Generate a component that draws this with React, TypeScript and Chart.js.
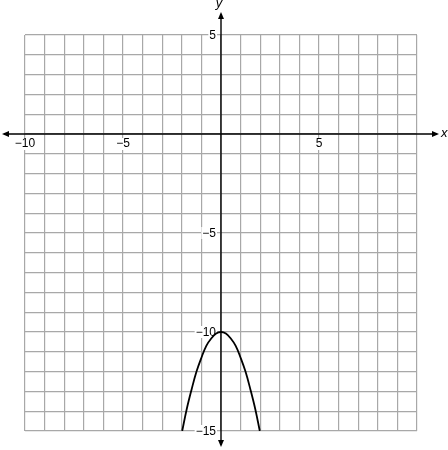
import React, { useEffect, useRef } from "react";
import { Chart, registerables } from "chart.js";

Chart.register(...registerables);

const xValues = [-1.98, -1.75, -1.5, -1.25, -1, -0.75, -0.5, -0.25, 0, 0.25, 0.5, 0.75, 1, 1.25, 1.5, 1.75, 1.98];
const yValues = [-15, -13.9, -12.9, -12.0, -11.3, -10.7, -10.33, -10.08, -10, -10.08, -10.33, -10.7, -11.3, -12.0, -12.9, -13.9, -15];
const xTickLabels = [-10, -5, 5];
const yTickLabels = [5, -5, -10, -15];
const xRange = [-10, 10];
const yRange = [-15, 5];

const fmt = (v: number) => (v < 0 ? "\u2212" + Math.abs(v) : String(v));

const axesPlugin = {
  id: "axesPlugin",
  beforeDatasetsDraw(chart: any) {
    const ctx = chart.ctx as CanvasRenderingContext2D;
    const xs = chart.scales.x;
    const ys = chart.scales.y;
    const ox = xs.getPixelForValue(0);
    const oy = ys.getPixelForValue(0);
    const W = chart.width;
    const H = chart.height;
    ctx.save();
    // tick labels
    ctx.font = "12px 'Liberation Sans', Arial, sans-serif";
    ctx.fillStyle = "#000";
    ctx.textAlign = "center";
    ctx.textBaseline = "top";
    for (const v of xTickLabels) {
      const px = xs.getPixelForValue(v);
      const t = fmt(v);
      const w = ctx.measureText(t).width;
      ctx.fillStyle = "#fff";
      ctx.fillRect(px - w / 2 - 1, oy + 4, w + 2, 12);
      ctx.fillStyle = "#000";
      ctx.fillText(t, px, oy + 4);
    }
    ctx.textAlign = "right";
    ctx.textBaseline = "middle";
    for (const v of yTickLabels) {
      const py = ys.getPixelForValue(v);
      const t = fmt(v);
      const w = ctx.measureText(t).width;
      ctx.fillStyle = "#fff";
      ctx.fillRect(ox - 5 - w - 1, py - 6, w + 2, 12);
      ctx.fillStyle = "#000";
      ctx.fillText(t, ox - 5, py + 0.5);
    }
    // axes
    ctx.strokeStyle = "#000";
    ctx.lineWidth = 1.4;
    ctx.beginPath();
    ctx.moveTo(4, oy);
    ctx.lineTo(W - 11, oy);
    ctx.moveTo(ox, 14);
    ctx.lineTo(ox, H - 5);
    ctx.stroke();
    ctx.fillStyle = "#000";
    const tri = (a: number[], b: number[], c: number[]) => {
      ctx.beginPath();
      ctx.moveTo(a[0], a[1]);
      ctx.lineTo(b[0], b[1]);
      ctx.lineTo(c[0], c[1]);
      ctx.closePath();
      ctx.fill();
    };
    tri([2, oy], [9, oy - 3], [9, oy + 3]);
    tri([W - 9, oy], [W - 16, oy - 3], [W - 16, oy + 3]);
    tri([ox, 12], [ox - 3, 19], [ox + 3, 19]);
    tri([ox, H - 3], [ox - 3, H - 10], [ox + 3, H - 10]);
    // axis names
    ctx.font = "italic 13px 'Liberation Sans', Arial, sans-serif";
    ctx.textAlign = "left";
    ctx.textBaseline = "middle";
    ctx.fillText("x", W - 7, oy - 1);
    ctx.textAlign = "center";
    ctx.textBaseline = "top";
    ctx.fillText("y", ox - 2, -3);
    ctx.restore();
  },
};

export default function App() {
  const ref = useRef<HTMLCanvasElement | null>(null);
  useEffect(() => {
    if (!ref.current) return;
    const chart = new Chart(ref.current, {
      type: "scatter",
      data: {
        datasets: [
          {
            data: xValues.map((x, i) => ({ x, y: yValues[i] })),
            showLine: true,
            borderColor: "#000",
            borderWidth: 1.8,
            pointRadius: 0,
            tension: 0.4,
            fill: false,
          },
        ],
      },
      options: {
        animation: false,
        responsive: false,
        maintainAspectRatio: false,
        layout: { padding: { left: 25, right: 31, top: 35, bottom: 19 } },
        plugins: { legend: { display: false }, tooltip: { enabled: false } },
        scales: {
          x: {
            type: "linear",
            min: xRange[0],
            max: xRange[1],
            ticks: { display: false, stepSize: 1 },
            grid: { color: "#a8a8a8", lineWidth: 1.2, drawTicks: false },
            border: { display: false },
          },
          y: {
            type: "linear",
            min: yRange[0],
            max: yRange[1],
            ticks: { display: false, stepSize: 1 },
            grid: { color: "#a8a8a8", lineWidth: 1.2, drawTicks: false },
            border: { display: false },
          },
        },
      },
      plugins: [axesPlugin],
    });
    return () => chart.destroy();
  }, []);
  return (
    <div style={{ position: "absolute", left: 0, top: 0, width: 448, height: 450, background: "#fff" }}>
      <canvas ref={ref} width={448} height={450} style={{ width: 448, height: 450, display: "block" }} />
    </div>
  );
}
